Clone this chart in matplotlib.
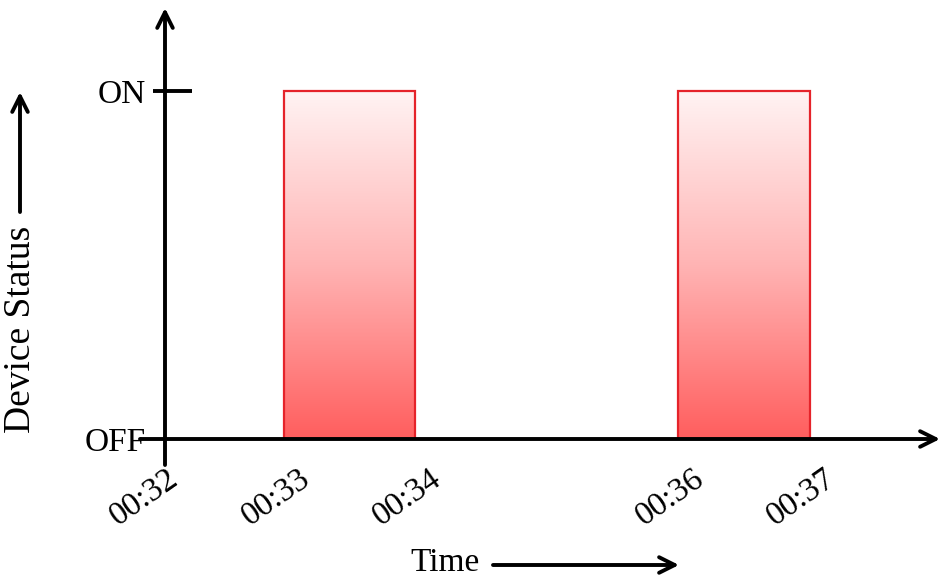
import numpy as np
import matplotlib
matplotlib.use('Agg')
import matplotlib.pyplot as plt
from matplotlib.colors import LinearSegmentedColormap
from matplotlib.patches import Rectangle, FancyArrowPatch
import matplotlib.transforms as mtransforms

plt.rcParams['font.family'] = ['Liberation Serif', 'DejaVu Serif']

# data
on_start = [33, 36]
on_end = [34, 37]
time_ticks = [32, 33, 34, 36, 37]
time_labels = ['00:32', '00:33', '00:34', '00:36', '00:37']
status_ticks = [0, 1]
status_labels = ['OFF', 'ON']

W, H = 941, 581
fig = plt.figure(figsize=(W / 100, H / 100), dpi=100)
# axes box in pixel terms: origin at (165, 439), right end 940, top 8
ax = fig.add_axes([165 / W, (H - 439) / H, 775 / W, 431 / H])
for s in ax.spines.values():
    s.set_visible(False)
ax.set_xticks([])
ax.set_yticks(status_ticks)
ax.set_yticklabels(status_labels, fontsize=24)
ax.tick_params(axis='y', length=0, pad=14)

# gradient bars
cmap = LinearSegmentedColormap.from_list('grad', ['#ff5e5e', '#ffb4b4', '#fff3f3'])
grad = np.linspace(0, 1, 256).reshape(-1, 1)
for x0, x1 in zip(on_start, on_end):
    ax.imshow(grad, cmap=cmap, extent=[x0, x1, 0, 1], origin='lower',
              aspect='auto', zorder=1)
    ax.add_patch(Rectangle((x0, 0), x1 - x0, 1, fill=False,
                           edgecolor='#e5232a', lw=1.6, zorder=2))
ax.set_xlim(32.095, 37.99)
ax.set_ylim(0, 1.24)

# axes arrows
arrow = dict(arrowstyle='->', lw=2.8, color='black', mutation_scale=28,
             shrinkA=0, shrinkB=0)
ax.annotate('', xy=(1.0, 0), xytext=(-25 / 775, 0), xycoords='axes fraction',
            arrowprops=arrow, zorder=3, annotation_clip=False)
ax.annotate('', xy=(0, 1.0), xytext=(0, -26 / 431), xycoords='axes fraction',
            arrowprops=arrow, zorder=3, annotation_clip=False)

# ON tick mark
trans = mtransforms.blended_transform_factory(ax.transAxes, ax.transData)
ax.plot([-12 / 775, 27 / 775], [1, 1], color='black', lw=2.8,
        transform=trans, clip_on=False, solid_capstyle='butt')

# rotated time labels
off = mtransforms.ScaledTranslation(14 / 100, -24 / 100, fig.dpi_scale_trans)
for t, lab in zip(time_ticks, time_labels):
    ax.text(t, 0, lab, fontsize=24, rotation=35, rotation_mode='anchor',
            ha='right', va='top', transform=ax.transData + off, clip_on=False)

# axis titles with arrows
fig.text(21 / W, 1 - 329 / H, 'Device Status', rotation=90, fontsize=27,
         ha='center', va='center')
fig.text(445 / W, 1 - 563 / H, 'Time', fontsize=24, ha='center', va='center')
fig.add_artist(FancyArrowPatch(
    (20 / W, 1 - 212 / H), (20 / W, 1 - 92 / H), transform=fig.transFigure,
    **arrow))
fig.add_artist(FancyArrowPatch(
    (493 / W, 1 - 565 / H), (679 / W, 1 - 565 / H), transform=fig.transFigure,
    **arrow))

fig.savefig('out.png', dpi=100)
